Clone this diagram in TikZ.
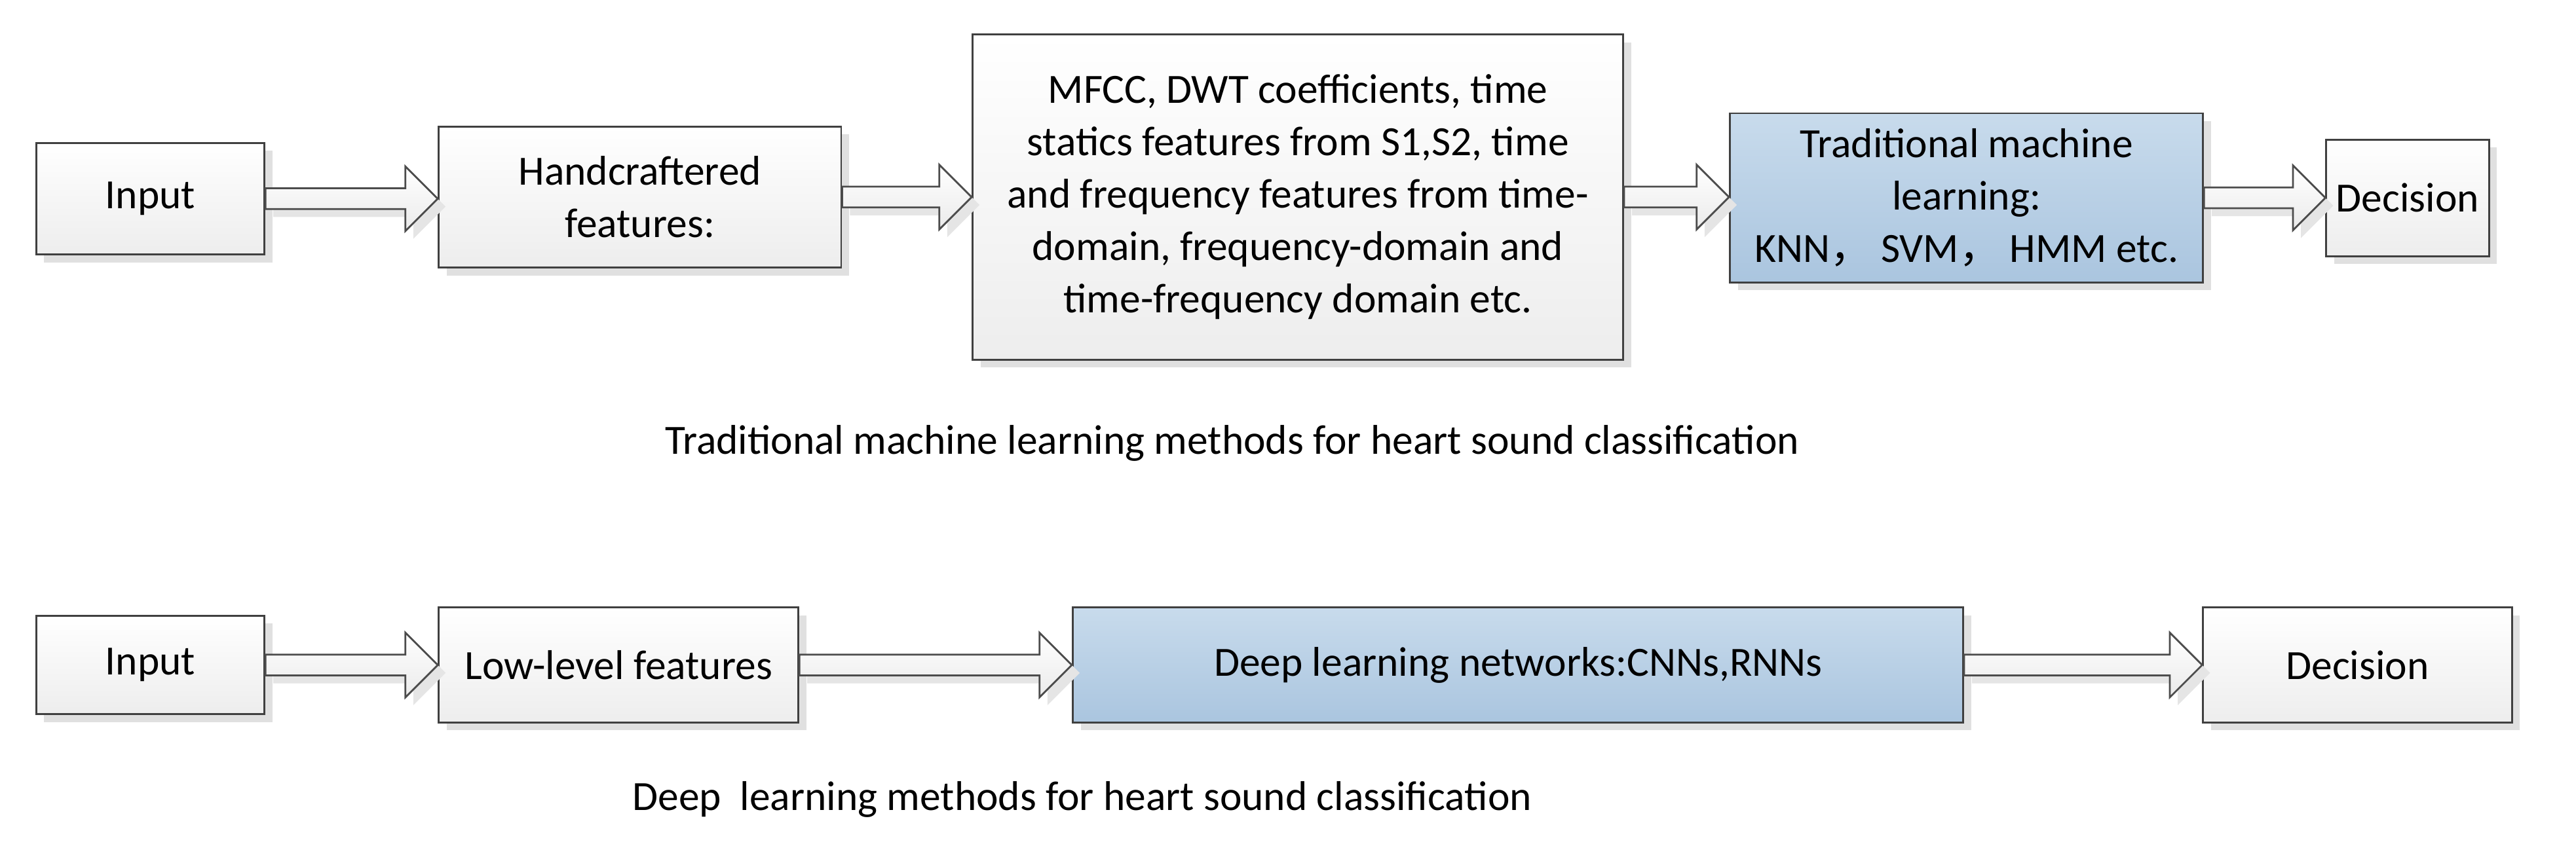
\documentclass[tikz,border=0pt]{standalone}
\usepackage{fontspec}
\setmainfont{Carlito}
\newfontfamily\cjk{Noto Sans CJK SC}
\usetikzlibrary{calc,shadows}

\newcommand\fatarrow[2]{%
  \draw[flow] let \p1=(#1.east), \p2=(#2.west) in
    (\x1,\y1+4.5) -- (\x2-14,\y1+4.5) -- (\x2-14,\y1+14) -- (\x2,\y1)
    -- (\x2-14,\y1-14) -- (\x2-14,\y1-4.5) -- (\x1,\y1-4.5) -- cycle;}

\begin{document}
\begin{tikzpicture}[
		x=0.025cm, y=0.025cm,
		font=\fontsize{18}{22.7}\selectfont,
		box/.style = {draw=black!75, thick, align=center, inner sep=1pt,
			top color=white, bottom color=black!7,
			drop shadow={shadow xshift=1.2mm, shadow yshift=-1.2mm, fill=black!12, opacity=1}},
		bluebox/.style = {box, top color={rgb,255:red,200;green,219;blue,236},
			bottom color={rgb,255:red,170;green,197;blue,223}},
		flow/.style = {draw=black!70, thick, top color=white, bottom color=black!8,
			drop shadow={shadow xshift=1.2mm, shadow yshift=-1.2mm, fill=black!10, opacity=1}}
		]
		\useasboundingbox (0,0) rectangle (1568,-515);
		% traditional pipeline
		\node[box, minimum width=139*0.025cm, minimum height=68*0.025cm] (in1) at (91.5,-121) {Input};
		\node[box, minimum width=245*0.025cm, minimum height=86*0.025cm] (hand) at (389.5,-120) {Handcraftered\\features:};
		\node[box, minimum width=396*0.025cm, minimum height=198*0.025cm] (feat) at (790,-120) {MFCC, DWT coefficients, time\\statics features from S1,S2, time\\and frequency features from time-\\domain, frequency-domain and\\time-frequency domain etc.};
		\node[bluebox, minimum width=288*0.025cm, minimum height=103*0.025cm] (ml) at (1197,-120.5) {Traditional machine\\learning:\\KNN{\cjk ，} SVM{\cjk ，} HMM etc.};
		\node[box, minimum width=99*0.025cm, minimum height=71*0.025cm] (dec1) at (1465.5,-120.5) {Decision};
		\fatarrow{in1}{hand}
		\fatarrow{hand}{feat}
		\fatarrow{feat}{ml}
		\fatarrow{ml}{dec1}
		\node (cap1) at (750,-270) {Traditional machine learning methods for heart sound classification};

		% deep pipeline
		\node[box, minimum width=139*0.025cm, minimum height=60*0.025cm] (in2) at (91.5,-405) {Input};
		\node[box, minimum width=219*0.025cm, minimum height=70*0.025cm] (low) at (376.5,-405) {Low-level features};
		\node[bluebox, minimum width=542*0.025cm, minimum height=70*0.025cm] (deep) at (924,-405) {Deep learning networks:CNNs,RNNs};
		\node[box, minimum width=188*0.025cm, minimum height=70*0.025cm] (dec2) at (1435,-405) {Decision};
		\fatarrow{in2}{low}
		\fatarrow{low}{deep}
		\fatarrow{deep}{dec2}
		\node[anchor=west] (cap2) at (380,-487) {Deep\ \ learning methods for heart sound classification};
\end{tikzpicture}
\end{document}
